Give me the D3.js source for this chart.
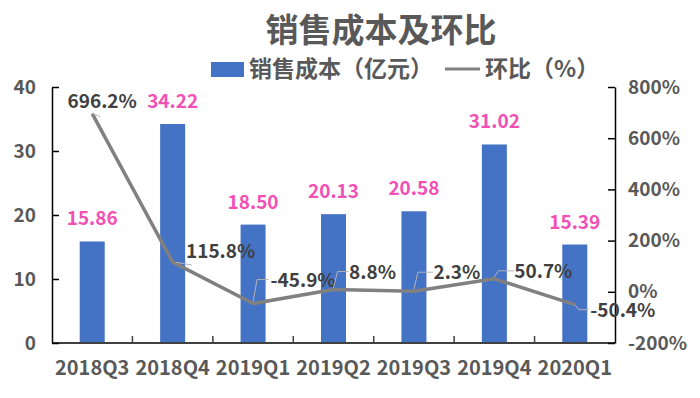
<!DOCTYPE html>
<html>
<head>
<meta charset="utf-8">
<script src="https://cdn.jsdelivr.net/npm/d3@7"></script>
<style>
  body { margin: 0; background: #fff; }
  svg text { font-family: "Noto Sans CJK SC", "Noto Sans", sans-serif; font-weight: bold; }
</style>
</head>
<body>
<div id="chart"></div>
<script>
// data
var quarters = ["2018Q3", "2018Q4", "2019Q1", "2019Q2", "2019Q3", "2019Q4", "2020Q1"];
var costs = [15.86, 34.22, 18.50, 20.13, 20.58, 31.02, 15.39];
var growth = [696.2, 115.8, -45.9, 8.8, 2.3, 50.7, -50.4];
var leftTicks = [0, 10, 20, 30, 40];
var rightTicks = [-200, 0, 200, 400, 600, 800];

// where each percent label was dragged to (dx, dy from the point) and leader style
var pctLabelOffsets = [
  {dx: 10, dy: -13, leader: "none"},
  {dx: 48, dy: -11, leader: "flat"},
  {dx: 50, dy: -24, leader: "up"},
  {dx: 39, dy: -18, leader: "up"},
  {dx: 43, dy: -19, leader: "up"},
  {dx: 49, dy: -8, leader: "up"},
  {dx: 48, dy: 5, leader: "down"}
];

var width = 700, height = 398;
var margin = {left: 52, right: 85, top: 87, bottom: 55};
var plotW = width - margin.left - margin.right;
var plotH = height - margin.top - margin.bottom;

var svg = d3.select("#chart").append("svg")
  .attr("width", width)
  .attr("height", height);

var x = d3.scaleBand().domain(quarters).range([0, plotW]);
var yL = d3.scaleLinear().domain([0, 40]).range([plotH, 0]);
var yR = d3.scaleLinear().domain([-200, 800]).range([plotH, 0]);

var g = svg.append("g").attr("transform", "translate(" + margin.left + "," + margin.top + ")");

// title
svg.append("text")
  .attr("x", 381).attr("y", 42)
  .attr("text-anchor", "middle")
  .attr("fill", "#595959")
  .style("font-size", "33px")
  .text("销售成本及环比");

// legend
var leg = svg.append("g").attr("transform", "translate(211,69)");
leg.append("rect").attr("x", 0).attr("y", -7).attr("width", 33).attr("height", 15).attr("fill", "#4472C4");
leg.append("text").attr("x", 38).attr("y", 8).attr("fill", "#595959").style("font-size", "23px").text("销售成本（亿元）");
leg.append("line").attr("x1", 234).attr("x2", 269).attr("y1", 0).attr("y2", 0)
  .attr("stroke", "#808080").attr("stroke-width", 3);
leg.append("text").attr("x", 274).attr("y", 8).attr("fill", "#595959").style("font-size", "23px").text("环比（%）");

// bars
var barW = 25;
g.selectAll("rect.bar").data(costs).enter().append("rect")
  .attr("class", "bar")
  .attr("x", function(d, i) { return x(quarters[i]) + x.bandwidth() / 2 - barW / 2; })
  .attr("y", function(d) { return yL(d); })
  .attr("width", barW)
  .attr("height", function(d) { return plotH - yL(d); })
  .attr("fill", "#4472C4");

g.selectAll("text.barLabel").data(costs).enter().append("text")
  .attr("class", "barLabel")
  .attr("x", function(d, i) { return x(quarters[i]) + x.bandwidth() / 2; })
  .attr("y", function(d) { return yL(d) - 16; })
  .attr("text-anchor", "middle")
  .attr("fill", "#F250B4")
  .style("font-size", "19px")
  .text(function(d) { return d.toFixed(2); });

// axes
function cx(i) { return x(quarters[i]) + x.bandwidth() / 2; }

var xAxis = g.append("g").attr("transform", "translate(0," + plotH + ")");
xAxis.append("line").attr("x1", 0).attr("x2", plotW).attr("stroke", "#404040").attr("stroke-width", 2);
xAxis.selectAll("line.tk").data(d3.range(1, quarters.length)).enter().append("line")
  .attr("class", "tk")
  .attr("x1", function(i) { return x(quarters[i]); })
  .attr("x2", function(i) { return x(quarters[i]); })
  .attr("y1", 0).attr("y2", -7)
  .attr("stroke", "#404040").attr("stroke-width", 1.5);
xAxis.selectAll("text").data(quarters).enter().append("text")
  .attr("x", function(d) { return x(d) + x.bandwidth() / 2; })
  .attr("y", 32)
  .attr("text-anchor", "middle")
  .attr("fill", "#595959")
  .style("font-size", "20px")
  .text(function(d) { return d; });

var leftAxis = g.append("g")
  .call(d3.axisLeft(yL).tickValues(leftTicks).tickSizeInner(-7).tickSizeOuter(0).tickPadding(16));
leftAxis.select(".domain").attr("stroke", "#000").attr("stroke-width", 1.5);
leftAxis.selectAll(".tick line").attr("stroke", "#000").attr("stroke-width", 1.5);
leftAxis.selectAll(".tick text").attr("fill", "#595959").style("font-size", "19px")
  .style("font-family", "'Noto Sans CJK SC', sans-serif").style("font-weight", "bold");

var rightAxis = g.append("g").attr("transform", "translate(" + plotW + ",0)")
  .call(d3.axisRight(yR).tickValues(rightTicks).tickSizeInner(-7).tickSizeOuter(0).tickPadding(13)
    .tickFormat(function(d) { return d + "%"; }));
rightAxis.select(".domain").attr("stroke", "#000").attr("stroke-width", 1.5);
rightAxis.selectAll(".tick line").attr("stroke", "#000").attr("stroke-width", 1.5);
rightAxis.selectAll(".tick text").attr("fill", "#595959").style("font-size", "19px")
  .style("font-family", "'Noto Sans CJK SC', sans-serif").style("font-weight", "bold");

// growth line
var line = d3.line()
  .x(function(d, i) { return cx(i); })
  .y(function(d) { return yR(d); });
g.append("path").datum(growth)
  .attr("d", line)
  .attr("fill", "none")
  .attr("stroke", "#808080")
  .attr("stroke-width", 3.5)
  .attr("stroke-linejoin", "round");

// percent labels with leader lines
growth.forEach(function(d, i) {
  var px = cx(i), py = yR(d), o = pctLabelOffsets[i];
  var tx = px + o.dx, ty = py + o.dy;
  var txtW = String(d.toFixed(1) + "%").length * 10.5;
  var leftEdge = tx - txtW / 2 - 3;
  var pts;
  if (o.leader === "flat") pts = [[px + 3, py], [leftEdge + 6, py + 3]];
  else if (o.leader === "up") pts = [[px, py - 2], [px + 4, ty], [leftEdge, ty]];
  else if (o.leader === "down") pts = [[px, py], [px + 4, ty], [leftEdge, ty]];
  else pts = [[px, py], [px + 8, py + 3]];
  g.append("path")
    .attr("d", d3.line()(pts))
    .attr("fill", "none")
    .attr("stroke", "#b4b4b4")
    .attr("stroke-width", 1);
  g.append("text")
    .attr("x", tx).attr("y", ty + 7)
    .attr("text-anchor", "middle")
    .attr("fill", "#404040")
    .style("font-size", "19px")
    .text(d.toFixed(1) + "%");
});
</script>
</body>
</html>
